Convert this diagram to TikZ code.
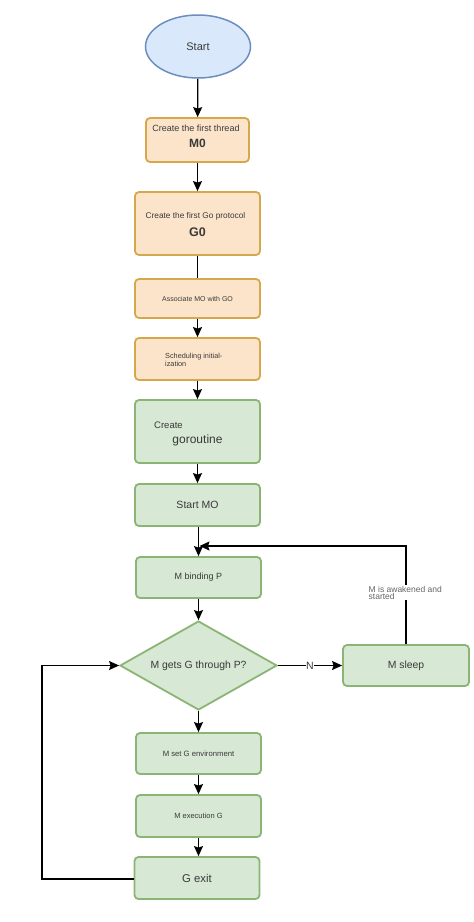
\documentclass[tikz,border=0pt]{standalone}
\usepackage{fontspec}
\setmainfont{Liberation Sans}
\usetikzlibrary{shapes.geometric,arrows.meta}
\definecolor{ofill}{HTML}{FCE4CA}
\definecolor{oline}{HTML}{D6A84C}
\definecolor{gfill}{HTML}{D7E8D4}
\definecolor{gline}{HTML}{8BB574}
\definecolor{bfill}{HTML}{DAE8FC}
\definecolor{bline}{HTML}{6C8EBF}
\definecolor{txt}{HTML}{3A3A3A}
\newcommand{\fs}[1]{\fontsize{#1}{#1}\selectfont}
\begin{document}
\begin{tikzpicture}[x=1pt,y=-1pt,
  obox/.style={draw=oline,fill=ofill,line width=1.8pt,rounded corners=4pt,minimum width=125pt,inner sep=0pt,text=txt,align=center},
  gbox/.style={draw=gline,fill=gfill,line width=1.8pt,rounded corners=4pt,minimum width=125pt,inner sep=0pt,text=txt,align=center},
  lbl/.style={inner sep=0pt,text=txt},
  conn/.style={line width=1.2pt,draw=black},
  arr/.style={conn,-{Stealth[length=10pt,width=9pt,inset=1.5pt]}}]
\useasboundingbox (0,0) rectangle (474,922);
\fill[white] (0,0) rectangle (474,922);
% nodes
\node[ellipse,draw=bline,fill=bfill,line width=1.5pt,minimum width=105pt,minimum height=63pt,inner sep=0pt,text=txt,font=\fs{11}] (start) at (198,46.5) {Start};
\node[obox,minimum width=103pt,minimum height=44pt] (b1) at (197.5,140) {};
\node[lbl,font=\fs{9}] (b1a) at (196,128.5) {Create the first thread};
\node[lbl,font=\bfseries\fs{12}] (b1b) at (197.5,143) {M0};
\node[obox,minimum height=63pt] (b2) at (197.5,223.5) {};
\node[lbl,font=\fs{8.3}] (b2a) at (195.5,216.5) {Create the first Go protocol};
\node[lbl,font=\bfseries\fs{12.5}] (b2b) at (197.5,232) {G0};
\node[obox,minimum height=39pt,font=\fs{7}] (b3) at (197.5,298.5) {Associate MO with GO};
\node[obox,minimum height=42pt] (b4) at (197.5,359) {};
\node[lbl,align=left,anchor=west,font=\fontsize{7.3}{7.8}\selectfont] (b4a) at (165,359.5) {Scheduling initial-\\ization};
\node[gbox,minimum height=63pt] (b5) at (197.5,431.5) {};
\node[lbl,font=\fs{9.5},anchor=west] (b5a) at (154,425) {Create};
\node[lbl,font=\fs{12}] (b5b) at (197.5,440.5) {goroutine};
\node[gbox,minimum height=42pt,font=\fs{10.5}] (b6) at (197.5,505) {Start MO};
\node[gbox,minimum height=41pt,font=\fs{9}] (b7) at (198.5,577.5) {M binding P};
\node[diamond,aspect=1.76,draw=gline,fill=gfill,line width=1.8pt,minimum width=157pt,minimum height=89pt,inner sep=0pt,text=txt,font=\fs{10.4}] (dec) at (198.5,665.5) {M gets G through P?};
\node[gbox,minimum width=126pt,minimum height=41pt,font=\fs{10.4}] (sleep) at (406,665.5) {M sleep};
\node[gbox,minimum height=41pt,font=\fs{7.7}] (b8) at (198.5,753.5) {M set G environment};
\node[gbox,minimum height=42pt,font=\fs{7.5}] (b9) at (198.5,816) {M execution G};
\node[gbox,minimum height=42pt,font=\fs{11.3}] (b10) at (197,878) {G exit};
% connectors
\draw[arr] (start) -- (b1);
\draw[arr] (b1) -- (b2);
\draw[conn] (b2) -- (b3);
\draw[arr] (b3) -- (b4);
\draw[arr] (b4) -- (b5);
\draw[arr] (b5) -- (b6);
\draw[arr] (b6.south -| b7.north) -- (b7);
\draw[arr] (b7) -- (dec);
\draw[arr] (dec) -- (sleep) node[midway,fill=white,inner sep=0.5pt,text=txt,font=\fs{10.5}] (nlab) {N};
\draw[arr] (dec) -- (b8);
\draw[arr] (b8) -- (b9);
\draw[arr] (b9.south) -- (b9.south |- b10.north);
\coordinate (join) at (199.5,546);
\coordinate (topr) at (406,546);
\draw[arr] (sleep.north) -- (topr) -- (join);
\node[inner sep=0.5pt,fill=white,text=black!60,align=left,anchor=west,font=\fontsize{8.5}{7}\selectfont] (wake) at (368,592.5) {M is awakened and\\started};
\coordinate (botl) at (42,879);
\coordinate (midl) at (42,665.5);
\draw[arr] (b10.west |- botl) -- (botl) -- (midl) -- (dec.west);
\end{tikzpicture}
\end{document}
